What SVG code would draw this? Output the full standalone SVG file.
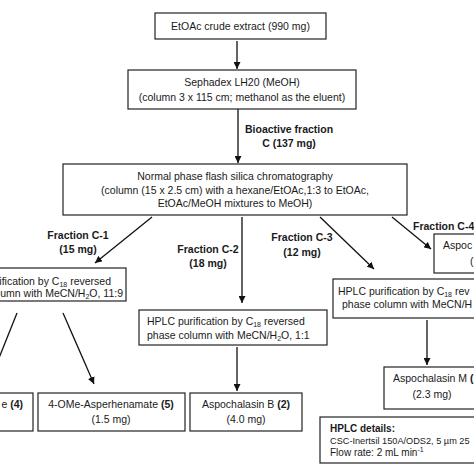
<svg xmlns="http://www.w3.org/2000/svg" width="474" height="474" viewBox="0 0 474 474">
<defs>
<marker id="ah" viewBox="0 0 10 10" refX="10" refY="5" markerWidth="7" markerHeight="7" markerUnits="userSpaceOnUse" orient="auto">
<path d="M0,0 L10,5 L0,10 z" fill="#111"/>
</marker>
<style>
.box{fill:#fff;stroke:#222;stroke-width:1.2}
.t{font-family:"Liberation Sans",Arial,sans-serif;font-size:10.5px;fill:#1a1a1a}
.c{text-anchor:middle}
.e{text-anchor:end}
.b{font-weight:bold}
.s{font-size:10px}
.xs{font-size:9.2px}
.con{stroke:#111;stroke-width:1.3;fill:none}
.sub{font-size:7px}
</style>
</defs>
<rect width="474" height="474" fill="#fff"/>

<g id="connectors">
<line class="con" x1="237" y1="41" x2="237" y2="69" marker-end="url(#ah)"/>
<line class="con" x1="238" y1="103" x2="238" y2="163" marker-end="url(#ah)"/>
<line class="con" x1="152" y1="217" x2="95" y2="263" marker-end="url(#ah)"/>
<line class="con" x1="242" y1="217" x2="242" y2="303" marker-end="url(#ah)"/>
<line class="con" x1="320" y1="217" x2="374" y2="269" marker-end="url(#ah)"/>
<line class="con" x1="392" y1="217" x2="431" y2="249" marker-end="url(#ah)"/>
<line class="con" x1="17" y1="313" x2="-5" y2="368"/>
<line class="con" x1="63" y1="313" x2="94" y2="384" marker-end="url(#ah)"/>
<line class="con" x1="237" y1="347" x2="237" y2="391" marker-end="url(#ah)"/>
<line class="con" x1="427" y1="320" x2="427" y2="365" marker-end="url(#ah)"/>
</g>

<g id="labels">
<text class="t b" x="245" y="133">Bioactive fraction</text>
<text class="t b c" x="289" y="147">C (137 mg)</text>
<text class="t b c" x="78" y="239">Fraction C-1</text>
<text class="t b c" x="78" y="253">(15 mg)</text>
<text class="t b c" x="208" y="253">Fraction C-2</text>
<text class="t b c" x="208" y="267">(18 mg)</text>
<text class="t b c" x="302" y="241">Fraction C-3</text>
<text class="t b c" x="302" y="256">(12 mg)</text>
<text class="t b" x="413" y="230">Fraction C-4</text>
</g>

<g id="crude">
<rect class="box" x="155" y="13" width="171" height="26"/>
<text class="t c" x="240.5" y="30">EtOAc crude extract (990 mg)</text>
</g>

<g id="sephadex">
<rect class="box" x="128" y="70" width="228" height="39"/>
<text class="t c" x="242" y="86">Sephadex LH20 (MeOH)</text>
<text class="t c" x="242" y="101">(column 3 x 115 cm; methanol as the eluent)</text>
</g>

<g id="silica">
<rect class="box" x="63" y="164" width="344" height="51"/>
<text class="t c" x="235" y="180">Normal phase flash silica chromatography</text>
<text class="t c" x="235" y="194">(column (15 x 2.5 cm) with a hexane/EtOAc,1:3  to EtOAc,</text>
<text class="t c" x="235" y="207">EtOAc/MeOH mixtures to MeOH)</text>
</g>

<g id="hplc-c1">
<rect class="box" x="-5" y="268" width="131" height="33"/>
<text class="t e" x="111" y="285">ification by C<tspan class="sub" dy="2">18</tspan><tspan dy="-2"> reversed</tspan></text>
<text class="t e" x="123" y="297">umn with MeCN/H<tspan class="sub" dy="2">2</tspan><tspan dy="-2">O, 11:9</tspan></text>
</g>

<g id="hplc-c2">
<rect class="box" x="139" y="310" width="188" height="35"/>
<text class="t" x="147" y="325">HPLC purification by C<tspan class="sub" dy="2">18</tspan><tspan dy="-2"> reversed</tspan></text>
<text class="t" x="147" y="339">phase column with MeCN/H<tspan class="sub" dy="2">2</tspan><tspan dy="-2">O, 1:1</tspan></text>
</g>

<g id="hplc-c3">
<rect class="box" x="333" y="279" width="160" height="39"/>
<text class="t" x="338" y="295">HPLC purification by C<tspan class="sub" dy="2">18</tspan><tspan dy="-2"> rev</tspan></text>
<text class="t" x="342" y="308">phase column with MeCN/H</text>
</g>

<g id="c4-box">
<rect class="box" x="434" y="234" width="60" height="39"/>
<text class="t" x="443" y="249">Aspoc</text>
<text class="t" x="470" y="265">(</text>
</g>

<g id="cmpd4">
<rect class="box" x="-5" y="393" width="38" height="38"/>
<text class="t e" x="23" y="408">e <tspan class="b">(4)</tspan></text>
</g>

<g id="cmpd5">
<rect class="box" x="38" y="393" width="147" height="38"/>
<text class="t c" x="111" y="408">4-OMe-Asperhenamate <tspan class="b">(5)</tspan></text>
<text class="t c" x="111" y="423">(1.5 mg)</text>
</g>

<g id="cmpd2">
<rect class="box" x="190" y="393" width="112" height="38"/>
<text class="t c" x="246" y="408">Aspochalasin B <tspan class="b">(2)</tspan></text>
<text class="t c" x="246" y="423">(4.0 mg)</text>
</g>

<g id="cmpdM">
<rect class="box" x="384" y="367" width="110" height="42"/>
<text class="t" x="393" y="382">Aspochalasin M <tspan class="b">(</tspan></text>
<text class="t c" x="432" y="398">(2.3 mg)</text>
</g>

<g id="hplc-details">
<rect class="box" x="320" y="417" width="170" height="46"/>
<text class="t s b" x="330" y="432">HPLC details:</text>
<text class="t xs" x="330" y="444">CSC-Inertsil 150A/ODS2, 5 µm 25</text>
<text class="t s" x="330" y="456">Flow rate: 2 mL min<tspan class="sub" dy="-4">-1</tspan></text>
</g>
</svg>
